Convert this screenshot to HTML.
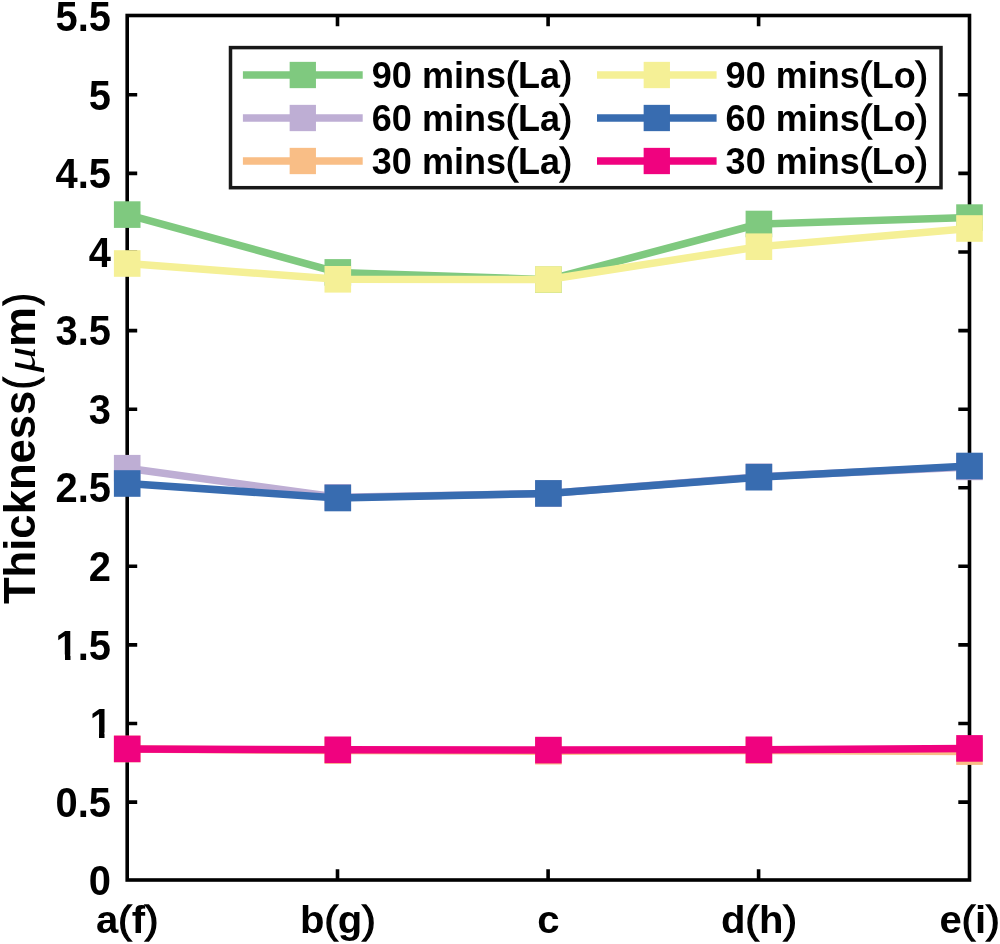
<!DOCTYPE html><html><head><meta charset="utf-8"><title>Thickness chart</title>
<style>html,body{margin:0;padding:0;background:#fff;}svg{display:block;}text{font-family:"Liberation Sans",Arial,Helvetica,sans-serif;font-weight:bold;fill:#000;}</style></head><body>
<svg width="1000" height="944" viewBox="0 0 1000 944">
<rect x="0" y="0" width="1000" height="944" fill="#fff"/>
<path d="M127.2 802.1h10M969.5 802.1h-11.2M127.2 723.5h10M969.5 723.5h-11.2M127.2 644.9h10M969.5 644.9h-11.2M127.2 566.3h10M969.5 566.3h-11.2M127.2 487.7h10M969.5 487.7h-11.2M127.2 409.2h10M969.5 409.2h-11.2M127.2 330.6h10M969.5 330.6h-11.2M127.2 252.0h10M969.5 252.0h-11.2M127.2 173.4h10M969.5 173.4h-11.2M127.2 94.8h10M969.5 94.8h-11.2M337.5 880.0v-10.8M337.5 15.5v10.8M548.1 880.0v-10.8M548.1 15.5v10.8M758.6 880.0v-10.8M758.6 15.5v10.8" stroke="#000" stroke-width="3.6" fill="none"/>
<rect x="127.2" y="15.5" width="842.3" height="864.5" fill="none" stroke="#000" stroke-width="3.6"/>
<text transform="translate(110.9 895.4) scale(0.95 1)" font-size="42" text-anchor="end">0</text>
<text transform="translate(110.9 816.8) scale(0.95 1)" font-size="42" text-anchor="end">0.5</text>
<text transform="translate(111.9 738.2) scale(0.95 1)" font-size="42" text-anchor="end">1</text>
<text transform="translate(110.9 659.6) scale(0.95 1)" font-size="42" text-anchor="end">1.5</text>
<text transform="translate(110.9 581.0) scale(0.95 1)" font-size="42" text-anchor="end">2</text>
<text transform="translate(110.9 502.4) scale(0.95 1)" font-size="42" text-anchor="end">2.5</text>
<text transform="translate(110.9 423.9) scale(0.95 1)" font-size="42" text-anchor="end">3</text>
<text transform="translate(110.9 345.3) scale(0.95 1)" font-size="42" text-anchor="end">3.5</text>
<text transform="translate(110.9 266.7) scale(0.95 1)" font-size="42" text-anchor="end">4</text>
<text transform="translate(110.9 188.1) scale(0.95 1)" font-size="42" text-anchor="end">4.5</text>
<text transform="translate(110.9 109.5) scale(0.95 1)" font-size="42" text-anchor="end">5</text>
<text transform="translate(110.9 30.9) scale(0.95 1)" font-size="42" text-anchor="end">5.5</text>
<path d="M58 654.4H65V660H58ZM70.5 654.4H77V660H70.5ZM91.5 732.4H99V738.4H91.5ZM104.5 732.4H112V738.4H104.5Z" fill="#fff"/>
<text transform="translate(127.2 933.2) scale(1.02 1)" font-size="39.3" text-anchor="middle">a<tspan font-weight="normal" stroke="#000" stroke-width="1.3">(</tspan>f<tspan font-weight="normal" stroke="#000" stroke-width="1.3">)</tspan></text>
<text transform="translate(337.8 933.2) scale(1.02 1)" font-size="39.3" text-anchor="middle">b<tspan font-weight="normal" stroke="#000" stroke-width="1.3">(</tspan>g<tspan font-weight="normal" stroke="#000" stroke-width="1.3">)</tspan></text>
<text transform="translate(548.4 933.2) scale(1.02 1)" font-size="39.3" text-anchor="middle">c</text>
<text transform="translate(758.9 933.2) scale(1.02 1)" font-size="39.3" text-anchor="middle">d<tspan font-weight="normal" stroke="#000" stroke-width="1.3">(</tspan>h<tspan font-weight="normal" stroke="#000" stroke-width="1.3">)</tspan></text>
<text transform="translate(969.5 933.2) scale(1.02 1)" font-size="39.3" text-anchor="middle">e<tspan font-weight="normal" stroke="#000" stroke-width="1.3">(</tspan>i<tspan font-weight="normal" stroke="#000" stroke-width="1.3">)</tspan></text>
<g transform="translate(35.3 604.1) rotate(-90)"><text transform="scale(0.97 1)" x="0" font-size="45">Thickness</text><text transform="translate(214.8 0) scale(0.8 1)" font-size="45" style="font-weight:normal" stroke="#000" stroke-width="1.4">(</text><text transform="translate(231.5 0) scale(1.15 1)" font-size="45" style="font-family:'Liberation Serif',serif;font-style:italic;font-weight:normal">&#956;</text><text x="257" font-size="45">m</text><text transform="translate(298.9 0) scale(0.8 1)" font-size="45" style="font-weight:normal" stroke="#000" stroke-width="1.4">)</text></g>
<polyline points="127.2,214.6 337.8,272.4 548.4,279.7 758.9,224.0 969.5,217.6" fill="none" stroke="#7fc97f" stroke-width="7.5" stroke-linejoin="round"/>
<rect x="113.9" y="201.3" width="26.6" height="26.6" fill="#7fc97f"/>
<rect x="324.5" y="259.1" width="26.6" height="26.6" fill="#7fc97f"/>
<rect x="535.1" y="266.4" width="26.6" height="26.6" fill="#7fc97f"/>
<rect x="745.6" y="210.7" width="26.6" height="26.6" fill="#7fc97f"/>
<rect x="956.2" y="204.3" width="26.6" height="26.6" fill="#7fc97f"/>
<polyline points="127.2,468.2 337.8,497.3 548.4,493.6 758.9,476.7 969.5,466.9" fill="none" stroke="#beaed4" stroke-width="7.5" stroke-linejoin="round"/>
<rect x="113.9" y="454.9" width="26.6" height="26.6" fill="#beaed4"/>
<rect x="324.5" y="484.0" width="26.6" height="26.6" fill="#beaed4"/>
<rect x="535.1" y="480.3" width="26.6" height="26.6" fill="#beaed4"/>
<rect x="745.6" y="463.4" width="26.6" height="26.6" fill="#beaed4"/>
<rect x="956.2" y="453.6" width="26.6" height="26.6" fill="#beaed4"/>
<polyline points="127.2,749.0 337.8,750.6 548.4,751.2 758.9,750.6 969.5,751.6" fill="none" stroke="#f9be86" stroke-width="7.5" stroke-linejoin="round"/>
<rect x="113.9" y="735.7" width="26.6" height="26.6" fill="#f9be86"/>
<rect x="324.5" y="737.3" width="26.6" height="26.6" fill="#f9be86"/>
<rect x="535.1" y="737.9" width="26.6" height="26.6" fill="#f9be86"/>
<rect x="745.6" y="737.3" width="26.6" height="26.6" fill="#f9be86"/>
<rect x="956.2" y="738.3" width="26.6" height="26.6" fill="#f9be86"/>
<polyline points="127.2,263.5 337.8,279.3 548.4,279.5 758.9,246.7 969.5,228.5" fill="none" stroke="#f5f096" stroke-width="7.5" stroke-linejoin="round"/>
<rect x="113.9" y="250.2" width="26.6" height="26.6" fill="#f5f096"/>
<rect x="324.5" y="266.0" width="26.6" height="26.6" fill="#f5f096"/>
<rect x="535.1" y="266.2" width="26.6" height="26.6" fill="#f5f096"/>
<rect x="745.6" y="233.4" width="26.6" height="26.6" fill="#f5f096"/>
<rect x="956.2" y="215.2" width="26.6" height="26.6" fill="#f5f096"/>
<polyline points="127.2,483.5 337.8,498.0 548.4,493.4 758.9,477.2 969.5,466.0" fill="none" stroke="#386cb0" stroke-width="7.5" stroke-linejoin="round"/>
<rect x="113.9" y="470.2" width="26.6" height="26.6" fill="#386cb0"/>
<rect x="324.5" y="484.7" width="26.6" height="26.6" fill="#386cb0"/>
<rect x="535.1" y="480.1" width="26.6" height="26.6" fill="#386cb0"/>
<rect x="745.6" y="463.9" width="26.6" height="26.6" fill="#386cb0"/>
<rect x="956.2" y="452.7" width="26.6" height="26.6" fill="#386cb0"/>
<polyline points="127.2,748.9 337.8,749.8 548.4,750.1 758.9,749.8 969.5,748.4" fill="none" stroke="#f0027f" stroke-width="7.5" stroke-linejoin="round"/>
<rect x="113.9" y="735.6" width="26.6" height="26.6" fill="#f0027f"/>
<rect x="324.5" y="736.5" width="26.6" height="26.6" fill="#f0027f"/>
<rect x="535.1" y="736.8" width="26.6" height="26.6" fill="#f0027f"/>
<rect x="745.6" y="736.5" width="26.6" height="26.6" fill="#f0027f"/>
<rect x="956.2" y="735.1" width="26.6" height="26.6" fill="#f0027f"/>
<rect x="230.5" y="47.6" width="710.5" height="140.1" fill="#fff" stroke="#181818" stroke-width="3.5"/>
<path d="M242.9 75.0H362.7" stroke="#7fc97f" stroke-width="7.5"/>
<rect x="289.65" y="61.85" width="26.3" height="26.3" fill="#7fc97f"/>
<text transform="translate(371.8 87.8) scale(0.974 1)" font-size="37">90 mins<tspan font-weight="normal" stroke="#000" stroke-width="1.3">(</tspan>La<tspan font-weight="normal" stroke="#000" stroke-width="1.3">)</tspan></text>
<path d="M242.9 118.0H362.7" stroke="#beaed4" stroke-width="7.5"/>
<rect x="289.65" y="104.85" width="26.3" height="26.3" fill="#beaed4"/>
<text transform="translate(371.8 130.8) scale(0.974 1)" font-size="37">60 mins<tspan font-weight="normal" stroke="#000" stroke-width="1.3">(</tspan>La<tspan font-weight="normal" stroke="#000" stroke-width="1.3">)</tspan></text>
<path d="M242.9 161.0H362.7" stroke="#f9be86" stroke-width="7.5"/>
<rect x="289.65" y="147.85" width="26.3" height="26.3" fill="#f9be86"/>
<text transform="translate(371.8 173.8) scale(0.974 1)" font-size="37">30 mins<tspan font-weight="normal" stroke="#000" stroke-width="1.3">(</tspan>La<tspan font-weight="normal" stroke="#000" stroke-width="1.3">)</tspan></text>
<path d="M597.0 75.0H716.6" stroke="#f5f096" stroke-width="7.5"/>
<rect x="643.65" y="61.85" width="26.3" height="26.3" fill="#f5f096"/>
<text transform="translate(725.6 87.8) scale(0.974 1)" font-size="37">90 mins<tspan font-weight="normal" stroke="#000" stroke-width="1.3">(</tspan>Lo<tspan font-weight="normal" stroke="#000" stroke-width="1.3">)</tspan></text>
<path d="M597.0 118.0H716.6" stroke="#386cb0" stroke-width="7.5"/>
<rect x="643.65" y="104.85" width="26.3" height="26.3" fill="#386cb0"/>
<text transform="translate(725.6 130.8) scale(0.974 1)" font-size="37">60 mins<tspan font-weight="normal" stroke="#000" stroke-width="1.3">(</tspan>Lo<tspan font-weight="normal" stroke="#000" stroke-width="1.3">)</tspan></text>
<path d="M597.0 161.0H716.6" stroke="#f0027f" stroke-width="7.5"/>
<rect x="643.65" y="147.85" width="26.3" height="26.3" fill="#f0027f"/>
<text transform="translate(725.6 173.8) scale(0.974 1)" font-size="37">30 mins<tspan font-weight="normal" stroke="#000" stroke-width="1.3">(</tspan>Lo<tspan font-weight="normal" stroke="#000" stroke-width="1.3">)</tspan></text>
</svg></body></html>
